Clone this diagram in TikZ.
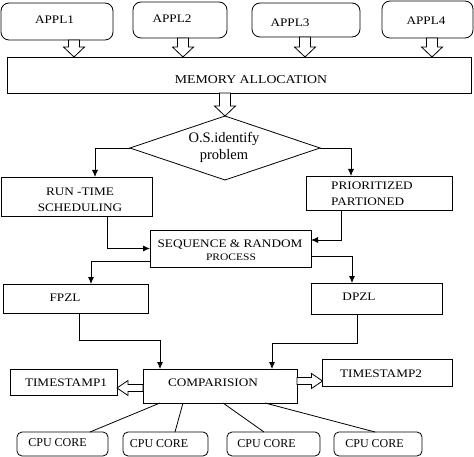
\documentclass[tikz,border=0pt]{standalone}
\usepackage{fontspec}
\setmainfont{Liberation Serif}
\newfontfamily\widefont[FakeStretch=1.15]{Liberation Serif}
\usetikzlibrary{arrows.meta,fit,shapes.geometric}
\newcommand\hadown[3]{\draw[harr] (#1-5.5,#2) -- (#1-5.5,#3-10) -- (#1-10.5,#3-10) -- (#1,#3) -- (#1+10.5,#3-10) -- (#1+5.5,#3-10) -- (#1+5.5,#2) -- cycle;}
\newcommand\hahor[4]{\draw[harr] (#1,#3-3.5) -- (#2-#4*11,#3-3.5) -- (#2-#4*11,#3-7.5) -- (#2,#3) -- (#2-#4*11,#3+7.5) -- (#2-#4*11,#3+3.5) -- (#1,#3+3.5) -- cycle;}
\tikzset{
  box/.style={draw, line width=0.8pt, inner sep=0pt, outer sep=0pt, fill=white},
  rbox/.style={box, rounded corners=8pt},
  cbox/.style={box, rounded corners=5pt},
  lbl/.style={font=\widefont\fontsize{11.5}{16}\selectfont, inner sep=0pt, align=center},
  plbl/.style={font=\fontsize{12}{14}\selectfont, inner sep=0pt},
  arr/.style={line width=0.8pt, -{Latex[length=7pt,width=6pt]}},
  ln/.style={line width=0.8pt},
  harr/.style={line width=0.8pt, fill=white},
}
\begin{document}
\begin{tikzpicture}[x=1pt,y=-1pt]
\useasboundingbox[fill=white] (0,0) rectangle (474,457);
% application boxes
\node[rbox, fit={(1,3)(113,40)}] (a1) {};
\node[rbox, fit={(133,2)(227,38)}] (a2) {};
\node[rbox, fit={(252,3)(360,37)}] (a3) {};
\node[rbox, fit={(382,1)(473,38)}] (a4) {};
\node[lbl] (a1t) at (54.5,20) {APPL1};
\node[lbl] (a2t) at (172,19) {APPL2};
\node[lbl] (a3t) at (290,23) {APPL3};
\node[lbl] (a4t) at (426,21) {APPL4};
% memory
\node[box, fit={(7,57)(471,93)}] (mem) {};
\node[lbl, font=\widefont\fontsize{12}{14}\selectfont] (memt) at (251,79.5) {MEMORY ALLOCATION};
\hadown{74}{40}{57}
\hadown{183}{38}{57}
\hadown{305}{37}{57}
\hadown{432}{38}{57}
% diamond
\node[draw, line width=0.8pt, diamond, minimum width=190pt, minimum height=64pt, inner sep=0pt, outer sep=0pt] (diam) at (225,148) {};
\hadown{225}{93}{116}
\node[font=\fontsize{14.5}{17}\selectfont, align=center, inner sep=0pt] (diamt) at (224,147.5) {O.S.identify\\problem};
% second level
\node[box, fit={(1,177)(152,216)}] (run) {};
\node[lbl] (runt) at (80,200) {RUN -TIME\\SCHEDULING};
\node[box, fit={(306,176)(452,210)}] (pri) {};
\node[lbl, align=left, anchor=west] (prit) at (331,193.5) {PRIORITIZED\\PARTIONED};
\draw[arr] (diam.west) -| ([xshift=18.5pt]run.north);
\draw[arr] (diam.east) -| ([xshift=-28pt]pri.north);
% sequence
\node[box, fit={(150,230)(311,267)}] (seq) {};
\node[lbl] (seqt) at (230,245) {SEQUENCE \& RANDOM};
\node[lbl, font=\widefont\fontsize{10}{12}\selectfont] (seqp) at (231,257.5) {PROCESS};
\draw[arr] ([xshift=30.5pt]run.south) |- (seq.west);
\draw[arr] ([xshift=-38pt]pri.south) |- ([yshift=8.5pt]seq.east);
% FPZL DPZL
\node[box, fit={(3,284)(148,313)}] (fpzl) {};
\node[lbl] (fpzlt) at (65,298) {FPZL};
\node[box, fit={(311,283)(442,314)}] (dpzl) {};
\node[lbl] (dpzlt) at (359,297) {DPZL};
\draw[arr] ([yshift=-12.5pt]seq.west) -| ([xshift=15.5pt]fpzl.north);
\draw[arr] ([yshift=-7.5pt]seq.east) -| ([xshift=-24.5pt]dpzl.north);
% comparision
\node[box, fit={(143,369)(297,403)}] (comp) {};
\node[lbl] (compt) at (213,383) {COMPARISION};
\draw[arr] ([xshift=3.5pt]fpzl.south) -- ++(0,27) -| ([xshift=-60pt]comp.north);
\draw[arr] ([xshift=-19.5pt]dpzl.south) -- ++(0,29) -| ([xshift=52pt]comp.north);
% timestamps
\node[box, fit={(10,369)(117,395)}] (ts1) {};
\node[lbl] (ts1t) at (66,383) {TIMESTAMP1};
\node[box, fit={(322,359)(452,386)}] (ts2) {};
\node[lbl] (ts2t) at (381,374) {TIMESTAMP2};
\hahor{143}{117}{388}{-1}
\hahor{297}{322.5}{381}{1}
% cpu cores
\node[cbox, fit={(17,432)(108,456)}] (c1) {};
\node[cbox, fit={(123,432)(208,456)}] (c2) {};
\node[cbox, fit={(227,432)(320,456)}] (c3) {};
\node[cbox, fit={(334,432)(422,456)}] (c4) {};
\node[plbl] (c1t) at (57.5,443) {CPU CORE};
\node[plbl] (c2t) at (159,444) {CPU CORE};
\node[plbl] (c3t) at (266.5,444) {CPU CORE};
\node[plbl] (c4t) at (374.5,444) {CPU CORE};
\draw[ln] ([xshift=-60pt]comp.south) -- ([xshift=27.5pt]c1.north);
\draw[ln] ([xshift=-37pt]comp.south) -- ([xshift=9.5pt]c2.north);
\draw[ln] ([xshift=3pt]comp.south) -- ([xshift=-9.5pt]c3.north);
\draw[ln] ([xshift=45pt]comp.south) -- ([xshift=-3pt]c4.north);
\end{tikzpicture}
\end{document}
